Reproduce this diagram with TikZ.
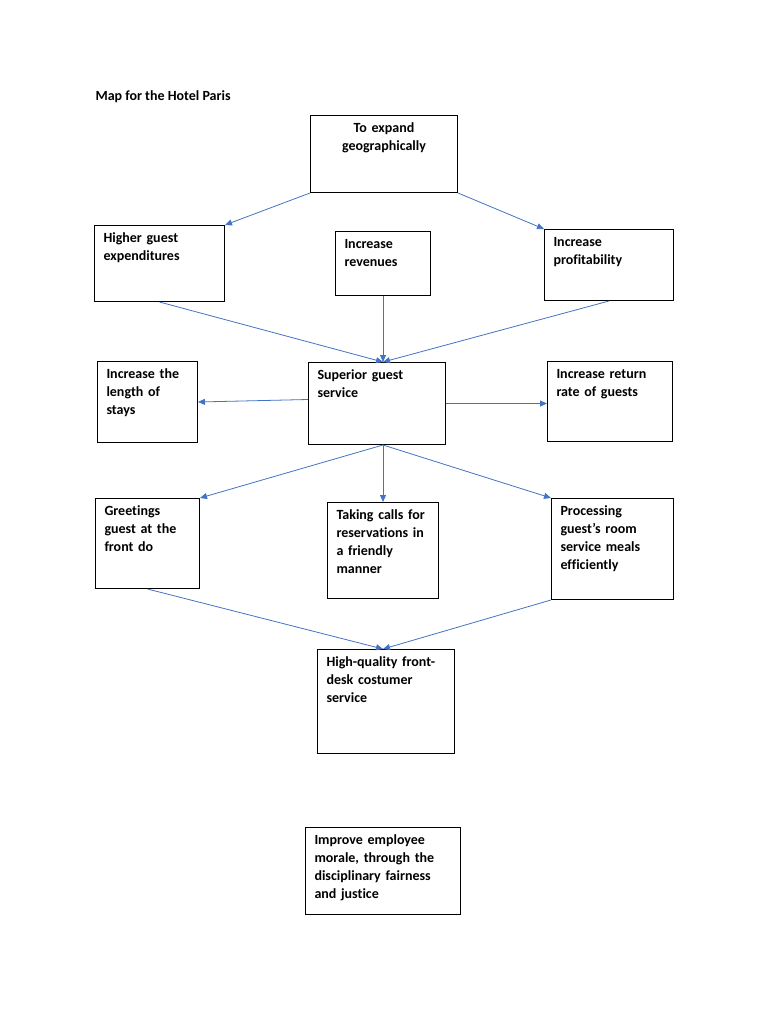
\documentclass[tikz,border=0pt]{standalone}
\usepackage{fontspec}
\setmainfont{Carlito}[Ligatures=NoCommon]
\usepackage{tikz}
\usetikzlibrary{arrows.meta}
\definecolor{arrowblue}{RGB}{68,114,196}

\begin{document}
\begin{tikzpicture}[x=1pt,y=-1pt,
	box/.style={draw,line width=1pt,rectangle,anchor=north west,align=left,inner xsep=9pt,inner ysep=4pt,text height=13pt,font=\fontsize{14}{18}\selectfont\bfseries},
	link/.style={arrowblue,line width=0.8pt,-{Triangle[length=7pt,width=6pt]}}]
	\useasboundingbox (0,0) rectangle (768,1024);
	\node[anchor=west,font=\fontsize{14}{16}\selectfont\bfseries] (title) at (92,97) {Map for the Hotel Paris};
	\node[box,align=center,text width=129pt,text depth=56pt] (expand) at (310,115) {To expand\\geographically};
	\node[box,text width=112pt,text depth=55pt] (higher) at (94,225) {Higher guest\\expenditures};
	\node[box,text width=77pt,text depth=43pt] (revenues) at (335,231) {Increase\\revenues};
	\node[box,text width=111pt,text depth=50pt] (profit) at (544,229) {Increase\\profitability};
	\node[box,text width=119pt,text depth=61pt] (superior) at (308,362) {Superior guest\\service};
	\node[box,text width=82pt,text depth=60pt] (length) at (97,361) {Increase the\\length of\\stays};
	\node[box,text width=107pt,text depth=59pt] (return) at (547,361) {Increase return\\rate of guests};
	\node[box,text width=86pt,text depth=69pt] (greet) at (95,498) {Greetings\\guest at the\\front do};
	\node[box,text width=93pt,text depth=75pt] (calls) at (327,502) {Taking calls for\\reservations in\\a friendly\\manner};
	\node[box,text width=104pt,text depth=80pt] (meals) at (551,498) {Processing\\guest’s room\\service meals\\efficiently};
	\node[box,text width=119pt,text depth=83pt] (desk) at (317,649) {High-quality front-\\desk costumer\\service};
	\node[box,text width=137pt,text depth=66pt] (morale) at (305,827) {Improve employee\\morale, through the\\disciplinary fairness\\and justice};
	\draw[link] (expand.south west) -- (higher.north east);
	\draw[link] (expand.south east) -- (profit.north west);
	\draw[link] (higher.south) -- ([xshift=6pt]superior.north);
	\draw[link] (revenues.south) -- ([xshift=6pt]superior.north);
	\draw[link] (profit.south) -- ([xshift=6pt]superior.north);
	\draw[link] ([yshift=4pt]superior.west) -- (length.east);
	\draw[link] (superior.east) -- ([yshift=-2pt]return.west);
	\draw[link] ([xshift=6pt]superior.south) -- (greet.north east);
	\draw[link] ([xshift=6pt]superior.south) -- (calls.north);
	\draw[link] ([xshift=6pt]superior.south) -- (meals.north west);
	\draw[link] (greet.south) -- ([xshift=-3pt]desk.north);
	\draw[link] (meals.south west) -- ([xshift=-3pt]desk.north);
\end{tikzpicture}
\end{document}
